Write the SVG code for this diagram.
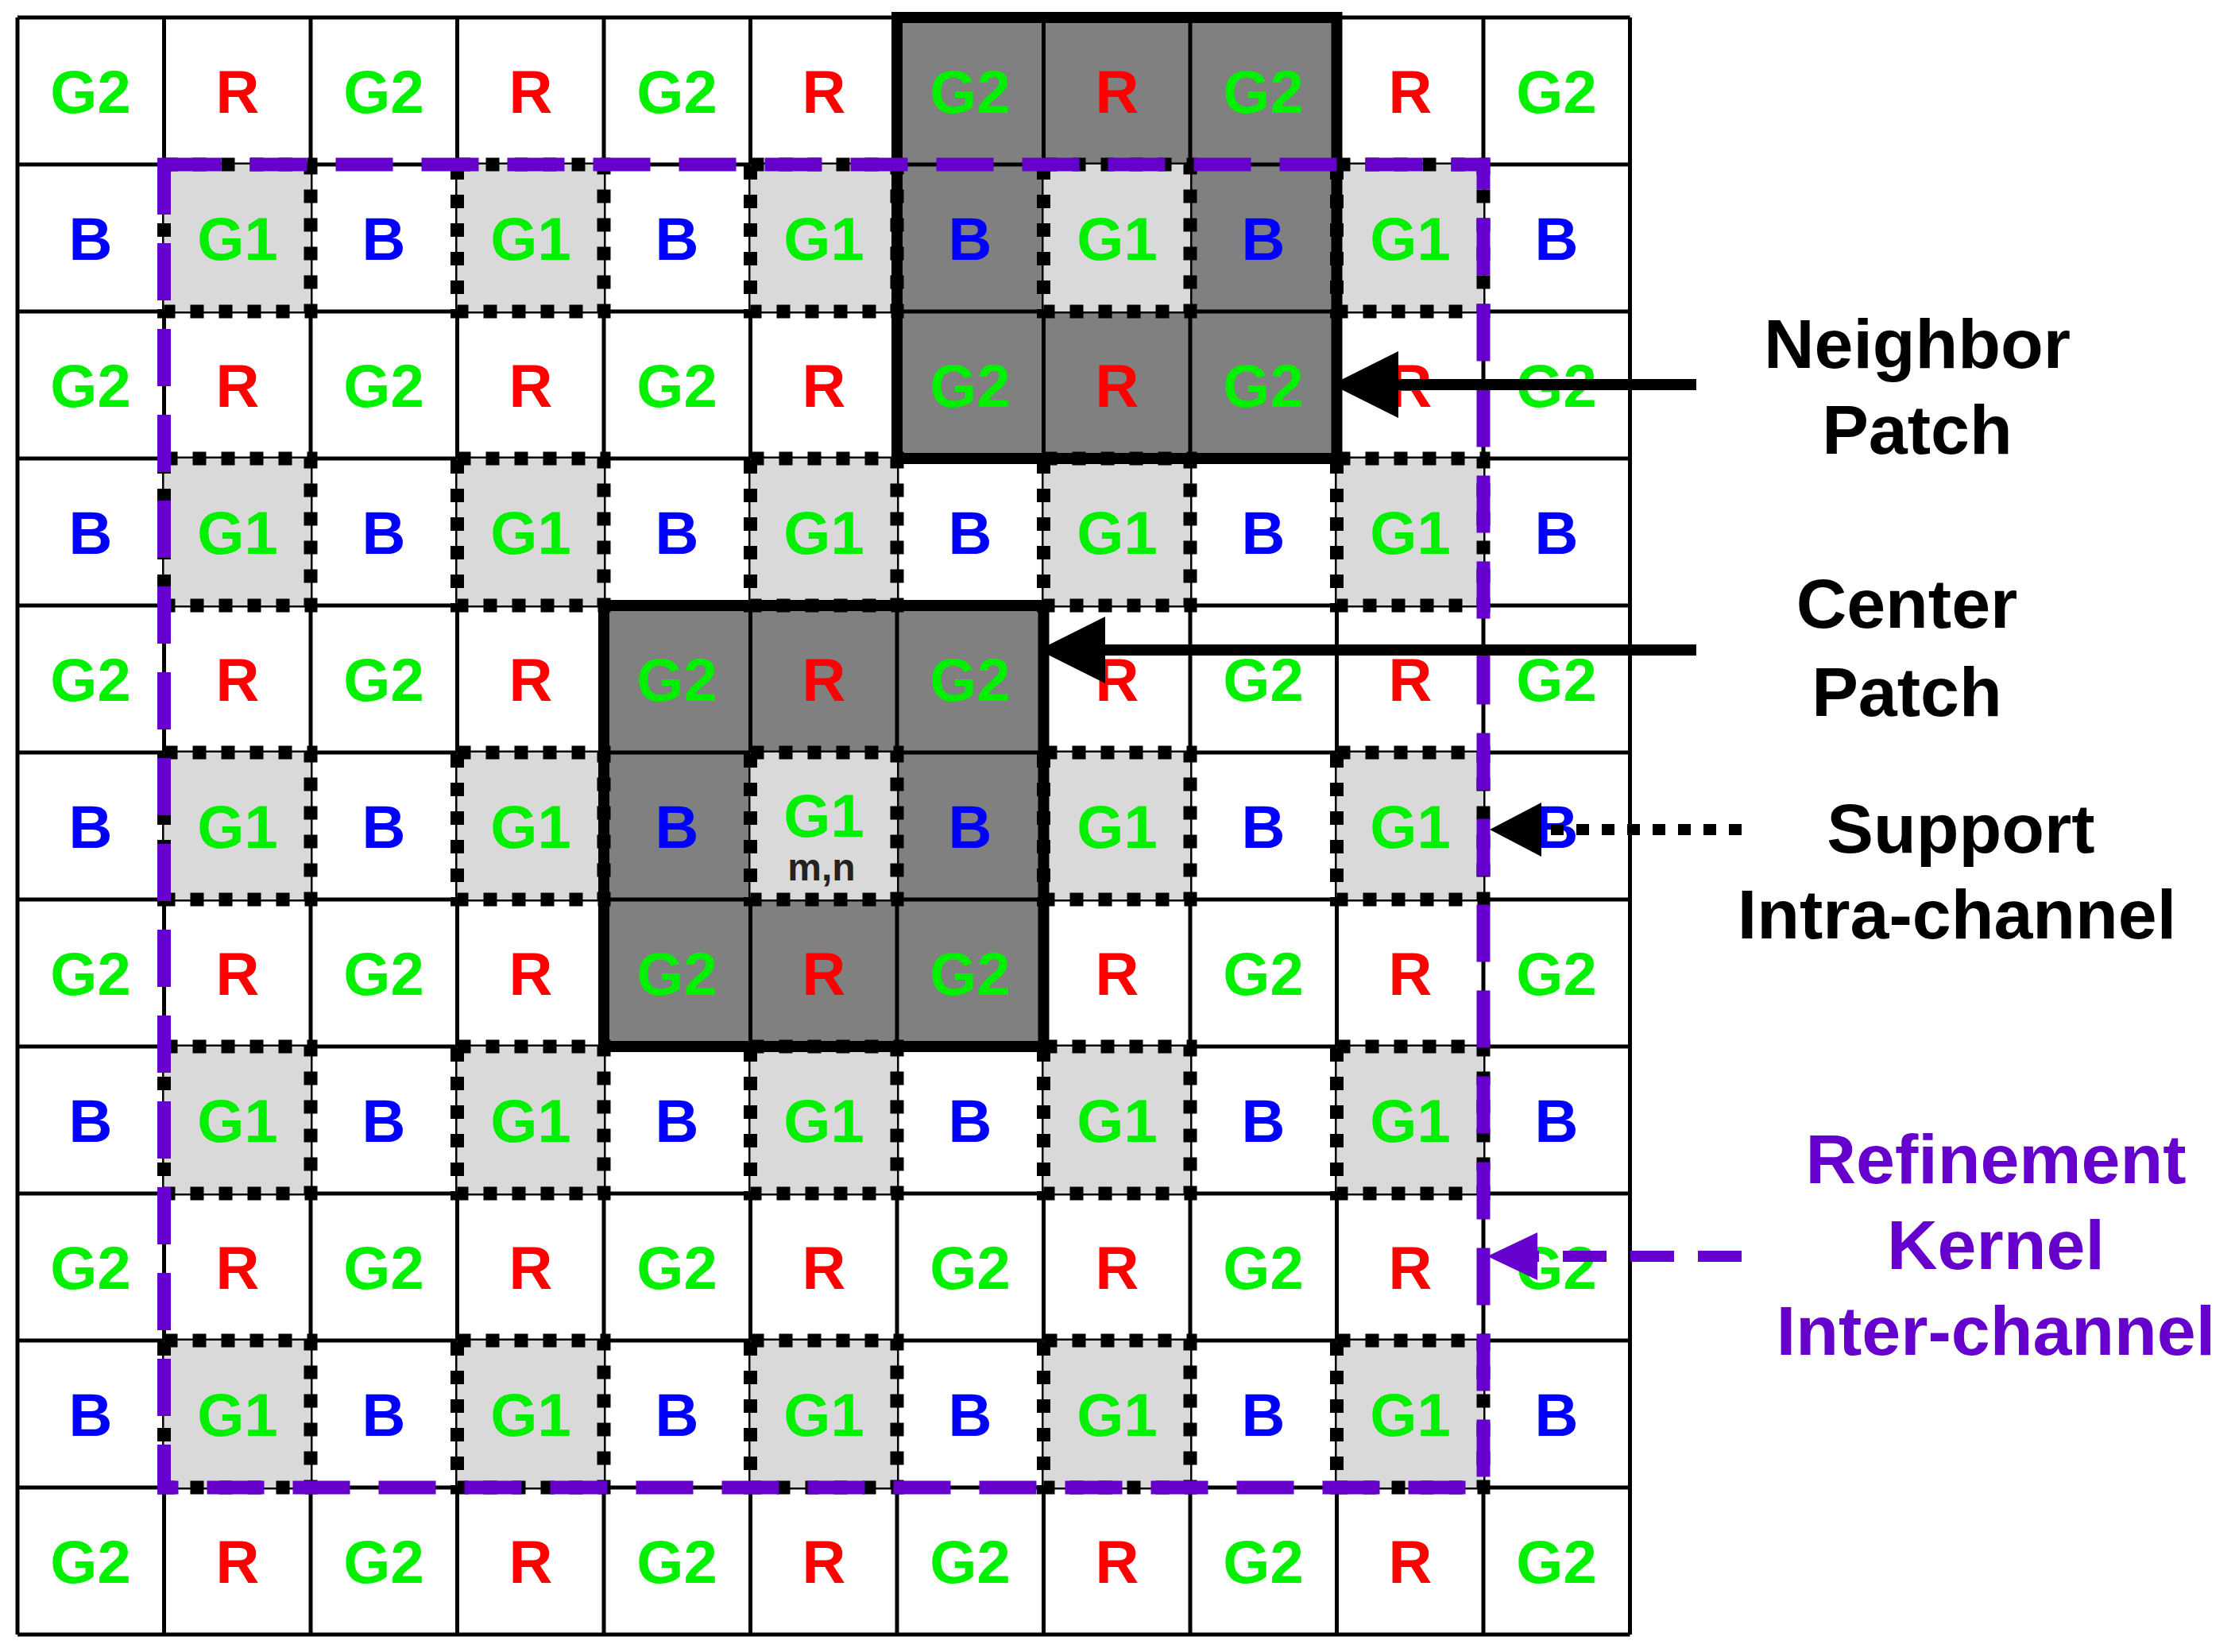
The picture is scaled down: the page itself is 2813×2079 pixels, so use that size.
<svg xmlns="http://www.w3.org/2000/svg" xmlns:xlink="http://www.w3.org/1999/xlink" width="2813" height="2079" viewBox="0 0 2813 2079">
<style>
text{font-family:"Liberation Sans",Arial,sans-serif;font-weight:bold;text-anchor:middle}
.c text{font-size:76px}
.g{fill:#00f000}.r{fill:#ff0000}.b{fill:#0000ff}
.lbl{font-size:88px;fill:#000}
.plbl{font-size:88px;fill:#6600cc}
</style>
<defs>
<rect id="g1" width="184.5" height="185" fill="#d9d9d9" stroke="#000" stroke-width="17" stroke-dasharray="17 19"/>
<marker id="ah" markerWidth="6" markerHeight="6" refX="5" refY="3" orient="auto" markerUnits="strokeWidth"><path d="M0,0 L6,3 L0,6 Z" fill="#000"/></marker>
</defs>
<rect width="2813" height="2079" fill="#fff"/>
<g id="patch-fills">
<rect x="1129" y="22" width="553.5" height="555" fill="#808080"/>
<rect x="760" y="762" width="553.5" height="555" fill="#808080"/>
</g>
<g id="grid" stroke="#000" stroke-width="5" fill="none">
<path d="M22,22V2057M206.5,22V2057M391,22V2057M575.5,22V2057M760,22V2057M944.5,22V2057M1129,22V2057M1313.5,22V2057M1498,22V2057M1682.5,22V2057M1867,22V2057M2051.5,22V2057"/>
<path d="M22,22H2051.5M22,207H2051.5M22,392H2051.5M22,577H2051.5M22,762H2051.5M22,947H2051.5M22,1132H2051.5M22,1317H2051.5M22,1502H2051.5M22,1687H2051.5M22,1872H2051.5M22,2057H2051.5"/>
</g>
<g id="g1-cells">
<use xlink:href="#g1" x="206.5" y="207"/><use xlink:href="#g1" x="575.5" y="207"/><use xlink:href="#g1" x="944.5" y="207"/><use xlink:href="#g1" x="1313.5" y="207"/><use xlink:href="#g1" x="1682.5" y="207"/>
<use xlink:href="#g1" x="206.5" y="577"/><use xlink:href="#g1" x="575.5" y="577"/><use xlink:href="#g1" x="944.5" y="577"/><use xlink:href="#g1" x="1313.5" y="577"/><use xlink:href="#g1" x="1682.5" y="577"/>
<use xlink:href="#g1" x="206.5" y="947"/><use xlink:href="#g1" x="575.5" y="947"/><use xlink:href="#g1" x="944.5" y="947"/><use xlink:href="#g1" x="1313.5" y="947"/><use xlink:href="#g1" x="1682.5" y="947"/>
<use xlink:href="#g1" x="206.5" y="1317"/><use xlink:href="#g1" x="575.5" y="1317"/><use xlink:href="#g1" x="944.5" y="1317"/><use xlink:href="#g1" x="1313.5" y="1317"/><use xlink:href="#g1" x="1682.5" y="1317"/>
<use xlink:href="#g1" x="206.5" y="1687"/><use xlink:href="#g1" x="575.5" y="1687"/><use xlink:href="#g1" x="944.5" y="1687"/><use xlink:href="#g1" x="1313.5" y="1687"/><use xlink:href="#g1" x="1682.5" y="1687"/>
</g>
<g id="neighbor-patch"><rect x="1129" y="22" width="553.5" height="555" fill="none" stroke="#000" stroke-width="14"/></g>
<g id="center-patch"><rect x="760" y="762" width="553.5" height="555" fill="none" stroke="#000" stroke-width="14"/></g>
<g id="refinement-kernel"><rect x="206.5" y="207" width="1660.5" height="1665" fill="none" stroke="#6600cc" stroke-width="17" stroke-dasharray="72 36"/></g>
<g id="cell-labels" class="c">
<text x="114" y="142" class="g">G2</text><text x="299" y="142" class="r">R</text><text x="483" y="142" class="g">G2</text><text x="668" y="142" class="r">R</text><text x="852" y="142" class="g">G2</text><text x="1037" y="142" class="r">R</text><text x="1221" y="142" class="g">G2</text><text x="1406" y="142" class="r">R</text><text x="1590" y="142" class="g">G2</text><text x="1775" y="142" class="r">R</text><text x="1959" y="142" class="g">G2</text>
<text x="114" y="327" class="b">B</text><text x="299" y="327" class="g">G1</text><text x="483" y="327" class="b">B</text><text x="668" y="327" class="g">G1</text><text x="852" y="327" class="b">B</text><text x="1037" y="327" class="g">G1</text><text x="1221" y="327" class="b">B</text><text x="1406" y="327" class="g">G1</text><text x="1590" y="327" class="b">B</text><text x="1775" y="327" class="g">G1</text><text x="1959" y="327" class="b">B</text>
<text x="114" y="512" class="g">G2</text><text x="299" y="512" class="r">R</text><text x="483" y="512" class="g">G2</text><text x="668" y="512" class="r">R</text><text x="852" y="512" class="g">G2</text><text x="1037" y="512" class="r">R</text><text x="1221" y="512" class="g">G2</text><text x="1406" y="512" class="r">R</text><text x="1590" y="512" class="g">G2</text><text x="1775" y="512" class="r">R</text><text x="1959" y="512" class="g">G2</text>
<text x="114" y="697" class="b">B</text><text x="299" y="697" class="g">G1</text><text x="483" y="697" class="b">B</text><text x="668" y="697" class="g">G1</text><text x="852" y="697" class="b">B</text><text x="1037" y="697" class="g">G1</text><text x="1221" y="697" class="b">B</text><text x="1406" y="697" class="g">G1</text><text x="1590" y="697" class="b">B</text><text x="1775" y="697" class="g">G1</text><text x="1959" y="697" class="b">B</text>
<text x="114" y="882" class="g">G2</text><text x="299" y="882" class="r">R</text><text x="483" y="882" class="g">G2</text><text x="668" y="882" class="r">R</text><text x="852" y="882" class="g">G2</text><text x="1037" y="882" class="r">R</text><text x="1221" y="882" class="g">G2</text><text x="1406" y="882" class="r">R</text><text x="1590" y="882" class="g">G2</text><text x="1775" y="882" class="r">R</text><text x="1959" y="882" class="g">G2</text>
<text x="114" y="1067" class="b">B</text><text x="299" y="1067" class="g">G1</text><text x="483" y="1067" class="b">B</text><text x="668" y="1067" class="g">G1</text><text x="852" y="1067" class="b">B</text><text x="1037" y="1053" class="g">G1</text><text x="1221" y="1067" class="b">B</text><text x="1406" y="1067" class="g">G1</text><text x="1590" y="1067" class="b">B</text><text x="1775" y="1067" class="g">G1</text><text x="1959" y="1067" class="b">B</text>
<text x="114" y="1252" class="g">G2</text><text x="299" y="1252" class="r">R</text><text x="483" y="1252" class="g">G2</text><text x="668" y="1252" class="r">R</text><text x="852" y="1252" class="g">G2</text><text x="1037" y="1252" class="r">R</text><text x="1221" y="1252" class="g">G2</text><text x="1406" y="1252" class="r">R</text><text x="1590" y="1252" class="g">G2</text><text x="1775" y="1252" class="r">R</text><text x="1959" y="1252" class="g">G2</text>
<text x="114" y="1437" class="b">B</text><text x="299" y="1437" class="g">G1</text><text x="483" y="1437" class="b">B</text><text x="668" y="1437" class="g">G1</text><text x="852" y="1437" class="b">B</text><text x="1037" y="1437" class="g">G1</text><text x="1221" y="1437" class="b">B</text><text x="1406" y="1437" class="g">G1</text><text x="1590" y="1437" class="b">B</text><text x="1775" y="1437" class="g">G1</text><text x="1959" y="1437" class="b">B</text>
<text x="114" y="1622" class="g">G2</text><text x="299" y="1622" class="r">R</text><text x="483" y="1622" class="g">G2</text><text x="668" y="1622" class="r">R</text><text x="852" y="1622" class="g">G2</text><text x="1037" y="1622" class="r">R</text><text x="1221" y="1622" class="g">G2</text><text x="1406" y="1622" class="r">R</text><text x="1590" y="1622" class="g">G2</text><text x="1775" y="1622" class="r">R</text><text x="1959" y="1622" class="g">G2</text>
<text x="114" y="1807" class="b">B</text><text x="299" y="1807" class="g">G1</text><text x="483" y="1807" class="b">B</text><text x="668" y="1807" class="g">G1</text><text x="852" y="1807" class="b">B</text><text x="1037" y="1807" class="g">G1</text><text x="1221" y="1807" class="b">B</text><text x="1406" y="1807" class="g">G1</text><text x="1590" y="1807" class="b">B</text><text x="1775" y="1807" class="g">G1</text><text x="1959" y="1807" class="b">B</text>
<text x="114" y="1992" class="g">G2</text><text x="299" y="1992" class="r">R</text><text x="483" y="1992" class="g">G2</text><text x="668" y="1992" class="r">R</text><text x="852" y="1992" class="g">G2</text><text x="1037" y="1992" class="r">R</text><text x="1221" y="1992" class="g">G2</text><text x="1406" y="1992" class="r">R</text><text x="1590" y="1992" class="g">G2</text><text x="1775" y="1992" class="r">R</text><text x="1959" y="1992" class="g">G2</text>
<text x="1034" y="1108" style="font-size:48px;fill:#222">m,n</text>
</g>
<g id="connectors">
<line x1="2135" y1="484" x2="1690" y2="484" stroke="#000" stroke-width="14" marker-end="url(#ah)"/>
<line x1="2135" y1="818" x2="1321" y2="818" stroke="#000" stroke-width="14" marker-end="url(#ah)"/>
<line x1="2192" y1="1044" x2="1900" y2="1044" stroke="#000" stroke-width="14" stroke-dasharray="16 16"/>
<path d="M1940,1010 L1875,1044 L1940,1078 Z" fill="#000"/>
<line x1="2192" y1="1581" x2="1900" y2="1581" stroke="#6600cc" stroke-width="14" stroke-dasharray="55 30"/>
<path d="M1935,1551 L1872,1581 L1935,1611 Z" fill="#6600cc"/>
</g>
<g id="labels">
<text x="2413" y="463" class="lbl">Neighbor</text><text x="2413" y="571" class="lbl">Patch</text>
<text x="2400" y="790" class="lbl">Center</text><text x="2400" y="901" class="lbl">Patch</text>
<text x="2468" y="1073" class="lbl">Support</text><text x="2463" y="1181" class="lbl">Intra-channel</text>
<text x="2512" y="1489" class="plbl">Refinement</text><text x="2512" y="1597" class="plbl">Kernel</text><text x="2512" y="1705" class="plbl">Inter-channel</text>
</g>
</svg>
